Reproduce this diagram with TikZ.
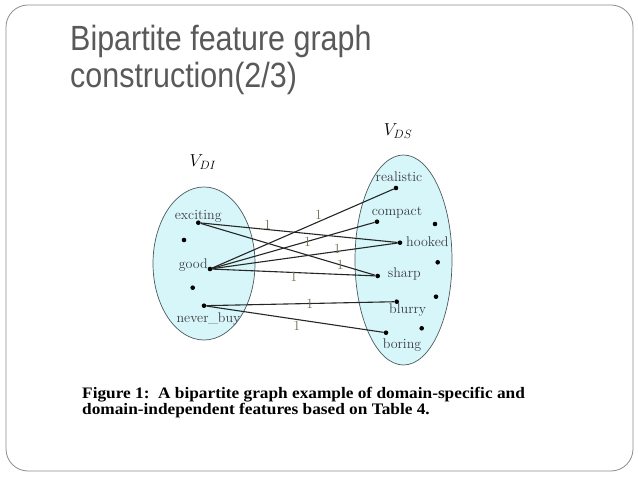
\documentclass[tikz,border=0pt]{standalone}
\usepackage{fontspec}
\usepackage{xcolor}
\usepackage{tikz}
\usetikzlibrary{positioning}
\newfontfamily\titlefont[FakeStretch=0.87]{Liberation Sans}
\newfontfamily\capfont[FakeStretch=1.08]{Liberation Serif}
\definecolor{BGTitle}{HTML}{595959}
\definecolor{BGFrame}{HTML}{8C8C8C}
\definecolor{BGSet}{HTML}{D7F6F9}
\definecolor{BGSetLine}{HTML}{4A5A5E}
\definecolor{BGWord}{HTML}{3C3C44}
\definecolor{BGWeight}{HTML}{6E7552}

\begin{document}
\begin{tikzpicture}[
        x=1pt,y=-1pt,
        every node/.style={inner sep=0pt},
        set/.style={draw=BGSetLine,fill=BGSet,line width=0.7pt},
        dot/.style={circle,fill=black,inner sep=0pt,minimum size=4.6pt},
        word/.style={text=BGWord,font=\fontsize{14}{16}\selectfont},
        weight/.style={text=BGWeight,font=\fontsize{14}{16}\selectfont},
        edge/.style={line width=1.1pt,draw=black!85},
        title/.style={text=BGTitle,font=\titlefont\fontsize{35}{37}\selectfont,anchor=base west},
        caption/.style={font=\capfont\bfseries\fontsize{16}{16}\selectfont,anchor=base west}
      ]
      \useasboundingbox (0,0) rectangle (638,478);
      \draw[BGFrame,rounded corners=22pt,line width=0.8pt] (6,5) rectangle (633,471);

      \node[title] (title1) at (70,51) {Bipartite feature graph};
      \node[title] (title2) at (70,88) {construction(2/3)};

      % the two vertex sets
      \draw[set] (204,263.5) ellipse (51 and 76.5);
      \draw[set] (403.5,260) ellipse (48.5 and 105);
      \node[font=\fontsize{17}{20}\selectfont] (di) at (203,162) {$V_{DI}$};
      \node[font=\fontsize{17}{20}\selectfont] (ds) at (398,131) {$V_{DS}$};

      % domain-independent features
      \node[dot] (exciting) at (198.3,222.7) {};
      \node[dot] (di2) at (184,240) {};
      \node[dot] (good) at (210,269) {};
      \node[dot] (di4) at (192.7,287.7) {};
      \node[dot] (neverbuy) at (204,305.7) {};

      % domain-specific features
      \node[dot] (realistic) at (396,188) {};
      \node[dot] (compact) at (377,221.7) {};
      \node[dot] (ds3) at (435,224) {};
      \node[dot] (hooked) at (400,242.7) {};
      \node[dot] (ds5) at (437.7,262.3) {};
      \node[dot] (sharp) at (377.7,276) {};
      \node[dot] (ds7) at (436,296.7) {};
      \node[dot] (blurry) at (396.7,301.7) {};
      \node[dot] (ds9) at (421.7,328.3) {};
      \node[dot] (boring) at (386,332.7) {};

      \node[word,anchor=base] (excitinglbl) at ([shift={(0,-3)}]exciting) {exciting};
      \node[word,anchor=base east] (goodlbl) at ([shift={(-2,0)}]good) {good};
      \node[word,anchor=base] (neverbuylbl) at ([shift={(4.5,17)}]neverbuy) {never\kern-0.5pt\_\kern-0.5pt buy};
      \node[word,anchor=base] (realisticlbl) at ([shift={(3,-6)}]realistic) {realistic};
      \node[word,anchor=base] (compactlbl) at ([shift={(20,-6)}]compact) {compact};
      \node[word,anchor=base west] (hookedlbl) at ([shift={(6,4)}]hooked) {hooked};
      \node[word,anchor=base west] (sharplbl) at ([shift={(10,1.7)}]sharp) {sharp};
      \node[word,anchor=base] (blurrylbl) at ([shift={(11,12)}]blurry) {blurry};
      \node[word,anchor=base] (boringlbl) at ([shift={(16,16)}]boring) {boring};

      % weighted edges
      \draw[edge] (exciting) -- node[weight,pos=0.34,yshift=5pt] {1} (hooked);
      \draw[edge] (exciting) -- node[weight,pos=0.80] {1} (sharp);
      \draw[edge] (good) -- node[weight,pos=0.586,yshift=7pt] {1} (realistic);
      \draw[edge] (good) -- node[weight,pos=0.587] {1} (compact);
      \draw[edge] (good) -- node[weight,pos=0.674,yshift=3pt] {1} (hooked);
      \draw[edge] (good) -- node[weight,pos=0.5,yshift=-4pt] {1} (sharp);
      \draw[edge] (neverbuy) -- node[weight,pos=0.55] {1} (blurry);
      \draw[edge] (neverbuy) -- node[weight,pos=0.51,yshift=-6pt] {1} (boring);

      \node[caption] (cap1) at (82,399) {Figure 1:\ \ A bipartite graph example of domain-specific and};
      \node[caption] (cap2) at (82,414.5) {domain-independent features based on Table 4.};
    \end{tikzpicture}
\end{document}
